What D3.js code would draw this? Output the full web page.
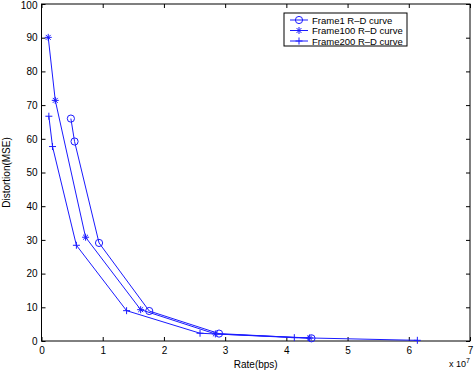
<!DOCTYPE html>
<html><head><meta charset="utf-8">
<script src="https://cdn.jsdelivr.net/npm/d3@7"></script>
<style>body{margin:0;background:#fff}svg{display:block;font-family:"Liberation Sans",Arial,sans-serif}</style>
</head><body><svg id="c" width="474" height="372"></svg>
<script>
const seriesNames = ["Frame1 R\u2013D curve", "Frame100 R\u2013D curve", "Frame200 R\u2013D curve"];
const frame1Rate = [0.48, 0.54, 0.94, 1.76, 2.90, 4.41];
const frame1Dist = [66.0, 59.2, 29.1, 8.9, 2.2, 0.8];
const frame100Rate = [0.11, 0.225, 0.72, 1.62, 2.84, 4.38];
const frame100Dist = [90.1, 71.4, 30.8, 9.3, 2.1, 0.9];
const frame200Rate = [0.12, 0.18, 0.57, 1.39, 2.59, 4.13, 6.14];
const frame200Dist = [66.7, 57.7, 28.4, 9.0, 2.3, 1.0, 0.2];
const xTicks = [0,1,2,3,4,5,6,7];
const yTicks = [0,10,20,30,40,50,60,70,80,90,100];

const svg = d3.select("#c");
const L=41.5, R=470, T=4, B=341;
const x = d3.scaleLinear().domain([0,7]).range([L,R]);
const y = d3.scaleLinear().domain([0,100]).range([B,T]);
const col = "#1a1aff";

svg.append("rect").attr("x",L).attr("y",T).attr("width",R-L).attr("height",B-T)
  .attr("fill","none").attr("stroke","#000").attr("stroke-width",1);

const tk = 4;
const gx = svg.append("g").attr("transform",`translate(0,${B})`)
  .call(d3.axisBottom(x).tickValues(xTicks).tickFormat(d3.format("d")).tickSizeInner(-tk).tickSizeOuter(0).tickPadding(6));
const gxt = svg.append("g").attr("transform",`translate(0,${T})`)
  .call(d3.axisTop(x).tickValues(xTicks).tickFormat("").tickSizeInner(-tk).tickSizeOuter(0));
const gy = svg.append("g").attr("transform",`translate(${L},0)`)
  .call(d3.axisLeft(y).tickValues(yTicks).tickFormat(d3.format("d")).tickSizeInner(-tk).tickSizeOuter(0).tickPadding(4));
const gyr = svg.append("g").attr("transform",`translate(${R},0)`)
  .call(d3.axisRight(y).tickValues(yTicks).tickFormat("").tickSizeInner(-tk).tickSizeOuter(0));
[gx,gxt,gy,gyr].forEach(g=>{g.select(".domain").remove();g.selectAll("text").attr("font-size",10).attr("fill","#000").attr("font-family","Liberation Sans, Arial, sans-serif");});
gx.selectAll("text").attr("dy","0.71em");
gy.selectAll("text").filter(d=>d===100).attr("dy","0.45em");

svg.append("text").attr("x",x(3.5)).attr("y",368).attr("text-anchor","middle").attr("font-size",10).text("Rate(bps)");
const t10 = svg.append("text").attr("x",449).attr("y",367).attr("font-size",9);
t10.append("tspan").text("x 10");
t10.append("tspan").attr("dy",-4).attr("font-size",7).text("7");
svg.append("text").attr("transform",`translate(10,${(T+B)/2}) rotate(-90)`).attr("text-anchor","middle").attr("font-size",10).text("Distortion(MSE)");

const line = d3.line().x(d=>x(d[0])).y(d=>y(d[1]));
const series = [
  {r:frame1Rate,d:frame1Dist,m:"o"},
  {r:frame100Rate,d:frame100Dist,m:"*"},
  {r:frame200Rate,d:frame200Dist,m:"+"}
];
function marker(g, m, cx, cy){
  const s=3.5;
  if(m==="o"){
    g.append("circle").attr("cx",cx).attr("cy",cy).attr("r",3.6).attr("fill","none").attr("stroke",col).attr("stroke-width",1);
  } else {
    g.append("line").attr("x1",cx-s).attr("x2",cx+s).attr("y1",cy).attr("y2",cy).attr("stroke",col);
    g.append("line").attr("x1",cx).attr("x2",cx).attr("y1",cy-s).attr("y2",cy+s).attr("stroke",col);
    if(m==="*"){
      const k=s*0.7;
      g.append("line").attr("x1",cx-k).attr("x2",cx+k).attr("y1",cy-k).attr("y2",cy+k).attr("stroke",col);
      g.append("line").attr("x1",cx-k).attr("x2",cx+k).attr("y1",cy+k).attr("y2",cy-k).attr("stroke",col);
    }
  }
}
series.forEach(s=>{
  const pts = s.r.map((v,i)=>[v,s.d[i]]);
  svg.append("path").datum(pts).attr("d",line).attr("fill","none").attr("stroke",col).attr("stroke-width",1);
  const g = svg.append("g");
  pts.forEach(p=>marker(g,s.m,x(p[0]),y(p[1])));
});

const lg = svg.append("g");
lg.append("rect").attr("x",284).attr("y",13).attr("width",123).attr("height",33).attr("fill","#fff").attr("stroke","#000").attr("stroke-width",1);
series.forEach((s,i)=>{
  const yy = 20 + i*10.5;
  lg.append("line").attr("x1",290).attr("x2",308).attr("y1",yy).attr("y2",yy).attr("stroke",col);
  marker(lg, s.m, 299, yy);
  lg.append("text").attr("x",312).attr("y",yy+3.5).attr("font-size",9.5).text(seriesNames[i]);
});
</script></body></html>
